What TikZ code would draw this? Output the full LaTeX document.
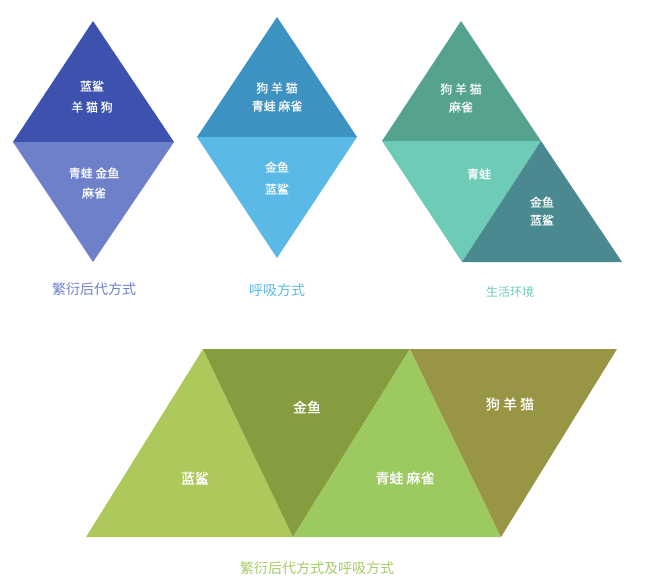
\documentclass[tikz,border=0pt]{standalone}
\usepackage{fontspec}
\newfontfamily\cjk{Noto Sans CJK SC}
\newfontfamily\cjkm{Noto Sans CJK SC}[FakeBold=0.8]
\usetikzlibrary{positioning}

\definecolor{blueA}{HTML}{3D52AE}
\definecolor{blueB}{HTML}{6E80C9}
\definecolor{skyA}{HTML}{3E92C2}
\definecolor{skyB}{HTML}{5BB9E7}
\definecolor{tealA}{HTML}{55A38F}
\definecolor{tealB}{HTML}{6ECBB7}
\definecolor{tealC}{HTML}{4B8991}
\definecolor{greenA}{HTML}{ADC95B}
\definecolor{greenB}{HTML}{859C3F}
\definecolor{greenC}{HTML}{9DCA60}
\definecolor{greenD}{HTML}{989545}
\definecolor{greenL}{HTML}{A3CB64}

\tikzset{
    txt/.style  = {text=white, inner sep=0pt, font=\cjkm\fontsize{12}{12}\selectfont},
    bigtxt/.style = {txt, font=\cjkm\fontsize{14}{14}\selectfont},
    caption/.style = {inner sep=0pt, font=\cjk\fontsize{14}{14}\selectfont}
}

\begin{document}
\begin{tikzpicture}[x=1pt, y=-1pt]
    \useasboundingbox (0,0) rectangle (660,581);
    % first diamond
    \coordinate (d1t) at (93,21);
    \coordinate (d1l) at (13,142);
    \coordinate (d1r) at (174,142);
    \coordinate (d1b) at (93,262);
    \fill[blueA] (d1t) -- (d1l) -- (d1r) -- cycle;
    \fill[blueB] (d1l) -- (d1r) -- (d1b) -- cycle;
    % second diamond
    \coordinate (d2t) at (277,17);
    \coordinate (d2l) at (197,137);
    \coordinate (d2r) at (357,137);
    \coordinate (d2b) at (277,258);
    \fill[skyA] (d2t) -- (d2l) -- (d2r) -- cycle;
    \fill[skyB] (d2l) -- (d2r) -- (d2b) -- cycle;
    % three triangles
    \coordinate (e1) at (461,21);
    \coordinate (e2) at (382,141);
    \coordinate (e3) at (541,141);
    \coordinate (e4) at (462,262);
    \coordinate (e5) at (622,262);
    \fill[tealA] (e1) -- (e2) -- (e3) -- cycle;
    \fill[tealB] (e2) -- (e3) -- (e4) -- cycle;
    \fill[tealC] (e3) -- (e4) -- (e5) -- cycle;
    % parallelogram
    \coordinate (p1) at (203,349);
    \coordinate (p2) at (410,349);
    \coordinate (p3) at (617,349);
    \coordinate (q1) at (86,537);
    \coordinate (q2) at (293,537);
    \coordinate (q3) at (501,537);
    \fill[greenA] (p1) -- (q1) -- (q2) -- cycle;
    \fill[greenB] (p1) -- (p2) -- (q2) -- cycle;
    \fill[greenC] (p2) -- (q2) -- (q3) -- cycle;
    \fill[greenD] (p2) -- (p3) -- (q3) -- cycle;

    \node[txt]  (a1) at (92,86)   {蓝鲨};
    \node[txt]  (a2) at (92,107)  {羊 猫 狗};
    \node[txt]  (a3) at (94,173)  {青蛙 金鱼};
    \node[txt]  (a4) at (94,193)  {麻雀};
    \node[txt]  (b1) at (277,88)  {狗 羊 猫};
    \node[txt]  (b2) at (277,106) {青蛙 麻雀};
    \node[txt]  (b3) at (277,167) {金鱼};
    \node[txt]  (b4) at (277,189) {蓝鲨};
    \node[txt]  (c1) at (461,89)  {狗 羊 猫};
    \node[txt]  (c2) at (461,107) {麻雀};
    \node[txt]  (c3) at (479,174) {青蛙};
    \node[txt]  (c4) at (542,202) {金鱼};
    \node[txt]  (c5) at (542,220) {蓝鲨};
    \node[bigtxt] (g1) at (195,478) {蓝鲨};
    \node[bigtxt] (g2) at (307,407) {金鱼};
    \node[bigtxt] (g3) at (405,478) {青蛙 麻雀};
    \node[bigtxt] (g4) at (510,404) {狗 羊 猫};

    \node[caption, text=blueB]  (t1) at (94,289)  {繁衍后代方式};
    \node[caption, text=skyB]   (t2) at (277,290) {呼吸方式};
    \node[caption, text=tealB, font=\cjk\fontsize{12}{12}\selectfont] (t3) at (510,292) {生活环境};
    \node[caption, text=greenL] (t4) at (317,568) {繁衍后代方式及呼吸方式};
\end{tikzpicture}
\end{document}
